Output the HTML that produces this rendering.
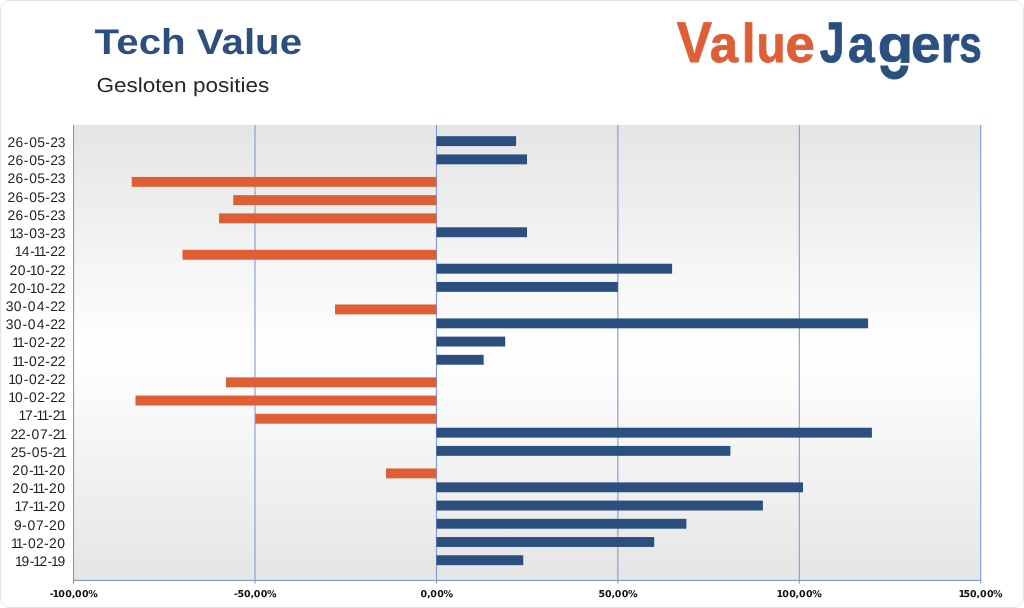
<!DOCTYPE html>
<html lang="nl">
<head>
<meta charset="utf-8">
<title>Tech Value - Gesloten posities</title>
<style>
html,body{margin:0;padding:0;background:#fff;}
body{width:1024px;height:608px;overflow:hidden;position:relative;font-family:"Liberation Sans",sans-serif;}
.card{position:absolute;left:0;top:0;width:1022px;height:606px;border:1px solid #e3e3e3;border-radius:10px;background:#fff;}
svg{position:absolute;left:0;top:0;text-rendering:geometricPrecision;}
.lbl{font-family:"Liberation Sans",sans-serif;font-size:13.9px;fill:#222;}
.ax{font-family:"DejaVu Sans","Liberation Sans",sans-serif;font-size:9.5px;font-weight:bold;fill:#111;}
.title{font-family:"Liberation Sans",sans-serif;font-weight:bold;fill:#2b5080;}
.sub{font-family:"Liberation Sans",sans-serif;fill:#262626;}
.logo{font-family:"Liberation Sans",sans-serif;font-weight:bold;}
</style>
</head>
<body>
<div class="card"></div>
<svg width="1024" height="608" viewBox="0 0 1024 608">
<defs>
<linearGradient id="bg" x1="0" y1="0" x2="0" y2="1">
<stop offset="0" stop-color="#e5e5e5"/>
<stop offset="0.5" stop-color="#ffffff"/>
<stop offset="1" stop-color="#e5e5e5"/>
</linearGradient>
</defs>
<text class="title" transform="translate(94.6,54.2) scale(1.1595,1.03)" font-size="34.75">Tech Value</text>
<text class="sub" transform="translate(96.4,91.6) scale(1.0,1.0)" font-size="20.3" textLength="173" lengthAdjust="spacingAndGlyphs">Gesloten posities</text>
<g class="logo" role="img" aria-label="Value Jagers">
<text y="61.7" fill="#e05e36" stroke="#e05e36" stroke-width="0.8" stroke-linejoin="miter"><tspan x="676.64" font-size="57.27" textLength="35.22" lengthAdjust="spacingAndGlyphs">V</tspan><tspan x="709.81" font-size="51.85" textLength="28.21" lengthAdjust="spacingAndGlyphs">a</tspan><tspan x="741.64" font-size="54.37" textLength="13.77" lengthAdjust="spacingAndGlyphs">l</tspan><tspan x="756.45" font-size="51.86" textLength="29.09" lengthAdjust="spacingAndGlyphs">u</tspan><tspan x="785.55" font-size="51.85" textLength="29.25" lengthAdjust="spacingAndGlyphs">e</tspan></text>
<text y="61.7" fill="#2b5080" stroke="#2b5080" stroke-width="0.8" stroke-linejoin="miter"><tspan x="819.72" font-size="57.12" textLength="24.95" lengthAdjust="spacingAndGlyphs">J</tspan><tspan x="847.99" font-size="51.85" textLength="26.70" lengthAdjust="spacingAndGlyphs">a</tspan><tspan x="877.83" font-size="51.80" textLength="35.34" lengthAdjust="spacingAndGlyphs">g</tspan><tspan x="911.13" font-size="51.85" textLength="29.48" lengthAdjust="spacingAndGlyphs">e</tspan><tspan x="940.79" font-size="51.80" textLength="18.95" lengthAdjust="spacingAndGlyphs">r</tspan><tspan x="959.28" font-size="51.80" textLength="22.48" lengthAdjust="spacingAndGlyphs">s</tspan></text>
<rect x="876" y="62.9" width="36" height="20" fill="#fff"/>
<path d="M884.2 65.5 A10.15 10.15 0 0 0 904.5 65.5" fill="none" stroke="#2b5080" stroke-width="7.8"/>
</g>
<rect x="73" y="124.9" width="907.5" height="455.6" fill="url(#bg)"/>
<rect x="73.05" y="124.9" width="1.05" height="458.7" fill="#7998d9"/>
<rect x="254.48" y="124.9" width="1.05" height="458.7" fill="#7998d9"/>
<rect x="435.91" y="124.9" width="1.05" height="458.7" fill="#7998d9"/>
<rect x="617.34" y="124.9" width="1.05" height="458.7" fill="#7998d9"/>
<rect x="798.77" y="124.9" width="1.05" height="458.7" fill="#7998d9"/>
<rect x="980.20" y="124.9" width="1.05" height="458.7" fill="#7998d9"/>
<rect x="73" y="579.9" width="908.2" height="1.05" fill="#7998d9"/>
<rect x="436.45" y="136.20" width="79.65" height="9.9" fill="#2b5080"/>
<rect x="436.45" y="154.42" width="90.55" height="9.9" fill="#2b5080"/>
<rect x="131.75" y="176.94" width="304.70" height="9.9" fill="#e05e36"/>
<rect x="233.25" y="195.16" width="203.20" height="9.9" fill="#e05e36"/>
<rect x="219.00" y="213.38" width="217.45" height="9.9" fill="#e05e36"/>
<rect x="436.45" y="227.30" width="90.55" height="9.9" fill="#2b5080"/>
<rect x="182.50" y="249.82" width="253.95" height="9.9" fill="#e05e36"/>
<rect x="436.45" y="263.74" width="235.65" height="9.9" fill="#2b5080"/>
<rect x="436.45" y="281.96" width="181.45" height="9.9" fill="#2b5080"/>
<rect x="335.00" y="304.48" width="101.45" height="9.9" fill="#e05e36"/>
<rect x="436.45" y="318.40" width="431.65" height="9.9" fill="#2b5080"/>
<rect x="436.45" y="336.62" width="68.75" height="9.9" fill="#2b5080"/>
<rect x="436.45" y="354.84" width="47.25" height="9.9" fill="#2b5080"/>
<rect x="226.00" y="377.36" width="210.45" height="9.9" fill="#e05e36"/>
<rect x="135.50" y="395.58" width="300.95" height="9.9" fill="#e05e36"/>
<rect x="255.25" y="413.80" width="181.20" height="9.9" fill="#e05e36"/>
<rect x="436.45" y="427.72" width="435.45" height="9.9" fill="#2b5080"/>
<rect x="436.45" y="445.94" width="293.95" height="9.9" fill="#2b5080"/>
<rect x="386.00" y="468.46" width="50.45" height="9.9" fill="#e05e36"/>
<rect x="436.45" y="482.38" width="366.55" height="9.9" fill="#2b5080"/>
<rect x="436.45" y="500.60" width="326.45" height="9.9" fill="#2b5080"/>
<rect x="436.45" y="518.82" width="249.95" height="9.9" fill="#2b5080"/>
<rect x="436.45" y="537.04" width="217.75" height="9.9" fill="#2b5080"/>
<rect x="436.45" y="555.26" width="86.80" height="9.9" fill="#2b5080"/>
<text class="lbl" x="7.58 15.46 23.70 29.17 37.36 45.31 50.18 57.76" y="147.00">26-05-23</text>
<text class="lbl" x="7.58 15.46 23.70 29.17 37.36 45.31 50.18 57.76" y="165.22">26-05-23</text>
<text class="lbl" x="7.58 15.46 23.70 29.17 37.36 45.31 50.18 57.76" y="183.44">26-05-23</text>
<text class="lbl" x="7.58 15.46 23.70 29.17 37.36 45.31 50.18 57.76" y="201.66">26-05-23</text>
<text class="lbl" x="7.58 15.46 23.70 29.17 37.36 45.31 50.18 57.76" y="219.88">26-05-23</text>
<text class="lbl" x="9.56 15.78 23.72 29.19 37.37 45.31 50.18 57.76" y="238.10">13-03-23</text>
<text class="lbl" x="14.85 21.71 30.30 33.80 38.67 45.27 50.14 57.74" y="256.32">14-11-22</text>
<text class="lbl" x="9.61 17.81 26.37 29.87 36.71 45.27 50.14 57.74" y="274.54">20-10-22</text>
<text class="lbl" x="9.61 17.81 26.37 29.87 36.71 45.27 50.14 57.74" y="292.76">20-10-22</text>
<text class="lbl" x="5.65 13.83 22.39 27.86 36.68 45.27 50.14 57.74" y="310.98">30-04-22</text>
<text class="lbl" x="5.65 13.83 22.39 27.86 36.68 45.27 50.14 57.74" y="329.20">30-04-22</text>
<text class="lbl" x="12.17 17.04 23.64 29.11 37.31 45.27 50.14 57.74" y="347.42">11-02-22</text>
<text class="lbl" x="12.17 17.04 23.64 29.11 37.31 45.27 50.14 57.74" y="365.64">11-02-22</text>
<text class="lbl" x="8.24 15.08 23.64 29.11 37.31 45.27 50.14 57.74" y="383.86">10-02-22</text>
<text class="lbl" x="8.24 15.08 23.64 29.11 37.31 45.27 50.14 57.74" y="402.08">10-02-22</text>
<text class="lbl" x="18.51 24.91 33.03 36.53 41.40 48.00 52.87 59.10" y="420.30">17-11-21</text>
<text class="lbl" x="10.49 18.09 26.05 31.52 39.88 48.00 52.87 59.10" y="438.52">22-07-21</text>
<text class="lbl" x="10.85 18.44 26.39 31.86 40.05 48.00 52.87 59.10" y="456.74">25-05-21</text>
<text class="lbl" x="12.34 20.54 29.10 32.60 37.47 44.07 48.94 57.14" y="474.96">20-11-20</text>
<text class="lbl" x="12.34 20.54 29.10 32.60 37.47 44.07 48.94 57.14" y="493.18">20-11-20</text>
<text class="lbl" x="14.58 20.98 29.10 32.60 37.47 44.07 48.94 57.14" y="511.40">17-11-20</text>
<text class="lbl" x="13.88 22.12 27.59 35.95 44.07 48.94 57.14" y="529.62">9-07-20</text>
<text class="lbl" x="10.97 15.84 22.44 27.91 36.11 44.07 48.94 57.14" y="547.84">11-02-20</text>
<text class="lbl" x="14.98 21.50 29.74 33.24 39.48 47.44 50.94 57.46" y="566.06">19-12-19</text>
<text class="ax" transform="translate(73.50,596.7) scale(1.0,1)" x="-23.72 -20.91 -15.21 -8.21 -1.81 1.59 8.59 14.79" y="0">-100,00%</text>
<text class="ax" transform="translate(254.95,596.7) scale(1.0,1)" x="-21.02 -17.41 -10.91 -4.51 -1.11 5.89 12.09" y="0">-50,00%</text>
<text class="ax" transform="translate(436.40,596.7) scale(1.0,1)" x="-15.86 -9.46 -6.06 0.94 7.14" y="0">0,00%</text>
<text class="ax" transform="translate(617.85,596.7) scale(1.0,1)" x="-19.36 -12.86 -6.46 -3.06 3.94 10.14" y="0">50,00%</text>
<text class="ax" transform="translate(799.30,596.7) scale(1.0,1)" x="-22.86 -17.16 -10.16 -3.76 -0.36 6.64 12.84" y="0">100,00%</text>
<text class="ax" transform="translate(980.75,596.7) scale(1.0,1)" x="-22.36 -17.16 -10.66 -4.26 -0.86 6.14 12.34" y="0">150,00%</text>
</svg>
</body>
</html>
